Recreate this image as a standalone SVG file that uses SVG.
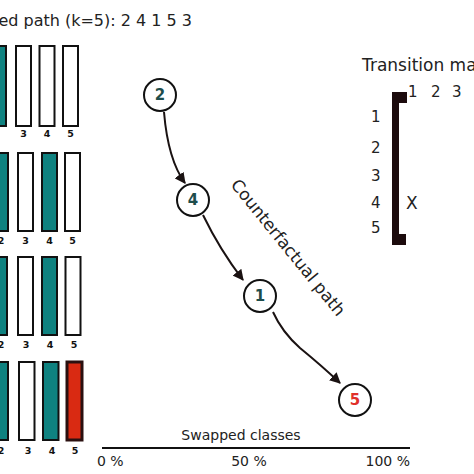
<svg xmlns="http://www.w3.org/2000/svg" width="474" height="474" viewBox="0 0 474 474">
<style>
text{font-family:"DejaVu Sans","Liberation Sans",sans-serif;fill:#222}
.bar{stroke:#111;stroke-width:2}
.t{fill:#0f8280}
.w{fill:#fff}
.r{fill:#d92a12;stroke:#2a1010;stroke-width:3}
.bl{font-size:9.5px;font-weight:bold;text-anchor:middle;fill:#111}
.node circle{fill:#fff;stroke:#111;stroke-width:2}
.node text{font-size:15px;font-weight:bold;text-anchor:middle;fill:#1e4d4b}
.edge{fill:none;stroke:#1a1212;stroke-width:2}
.m{font-size:15px}
</style>
<defs>
<marker id="ah" viewBox="0 0 10 10" refX="9" refY="5" markerWidth="5.5" markerHeight="5.5" orient="auto" markerUnits="strokeWidth">
<path d="M0,0 L10,5 L0,10 z" fill="#1a1212"/>
</marker>
</defs>
<rect width="474" height="474" fill="#fff"/>
<text x="192" y="26" font-size="16" text-anchor="end">ped path (k=5): 2 4 1 5 3</text>

<g id="row1">
<rect class="bar t" x="-9" y="46" width="15" height="80"/>
<rect class="bar w" x="16" y="46" width="15" height="80"/>
<rect class="bar w" x="39.5" y="46" width="15" height="80"/>
<rect class="bar w" x="63" y="46" width="15" height="80"/>
<text class="bl" x="23.5" y="137">3</text>
<text class="bl" x="47" y="137">4</text>
<text class="bl" x="70.5" y="137">5</text>
</g>
<g id="row2">
<rect class="bar t" x="-7" y="153" width="15" height="78"/>
<rect class="bar w" x="18" y="153" width="15" height="78"/>
<rect class="bar t" x="42" y="153" width="15" height="78"/>
<rect class="bar w" x="65" y="153" width="15" height="78"/>
<text class="bl" x="1" y="244">2</text>
<text class="bl" x="25.5" y="244">3</text>
<text class="bl" x="49.5" y="244">4</text>
<text class="bl" x="72.5" y="244">5</text>
</g>
<g id="row3">
<rect class="bar t" x="-8" y="257" width="15" height="78"/>
<rect class="bar w" x="18" y="257" width="15" height="78"/>
<rect class="bar t" x="42" y="257" width="15" height="78"/>
<rect class="bar w" x="65.5" y="257" width="15" height="78"/>
<text class="bl" x="1" y="348">2</text>
<text class="bl" x="26" y="348">3</text>
<text class="bl" x="50" y="348">4</text>
<text class="bl" x="74" y="348">5</text>
</g>
<g id="row4">
<rect class="bar t" x="-7" y="362" width="15" height="78"/>
<rect class="bar w" x="19" y="362" width="15.5" height="78"/>
<rect class="bar t" x="43" y="362" width="15.5" height="78"/>
<rect class="r" x="67" y="362" width="15" height="78"/>
<text class="bl" x="1" y="454">2</text>
<text class="bl" x="28" y="454">3</text>
<text class="bl" x="52" y="454">4</text>
<text class="bl" x="75" y="454">5</text>
</g>

<g id="connectors">
<path class="edge" d="M164,112 Q168,160 185,183" marker-end="url(#ah)"/>
<path class="edge" d="M203,215 Q220,250 243,280" marker-end="url(#ah)"/>
<path class="edge" d="M273,312 Q282,332 300,348 Q322,366 340,383" marker-end="url(#ah)"/>
</g>

<g id="node2" class="node"><circle cx="160" cy="95" r="16"/><text x="160" y="100">2</text></g>
<g id="node4" class="node"><circle cx="193" cy="200" r="16"/><text x="193" y="205">4</text></g>
<g id="node1" class="node"><circle cx="260" cy="296" r="16"/><text x="260" y="301">1</text></g>
<g id="node5" class="node"><circle cx="355" cy="400" r="16"/><text x="355" y="405" style="fill:#e0302a">5</text></g>

<text x="230" y="185" font-size="17" transform="rotate(51 230 185)">Counterfactual path</text>

<g id="matrix">
<text x="362" y="71" font-size="17">Transition ma</text>
<path d="M392,92 H407 V103 H399 V234 H406 V245 H392 Z" fill="#1c0b0d"/>
<text class="m" x="408" y="97">1</text>
<text class="m" x="431" y="97">2</text>
<text class="m" x="452" y="97">3</text>
<text class="m" x="371" y="122">1</text>
<text class="m" x="371" y="153">2</text>
<text class="m" x="371" y="181">3</text>
<text class="m" x="371" y="208">4</text>
<text class="m" x="371" y="233">5</text>
<text x="406" y="209" font-size="17">X</text>
</g>

<g id="axis">
<text x="241" y="440" font-size="14" text-anchor="middle">Swapped classes</text>
<line x1="102" y1="448" x2="410" y2="448" stroke="#111" stroke-width="2"/>
<text x="97" y="466" font-size="14">0 %</text>
<text x="249" y="466" font-size="14" text-anchor="middle">50 %</text>
<text x="410" y="466" font-size="14" text-anchor="end">100 %</text>
</g>
</svg>
